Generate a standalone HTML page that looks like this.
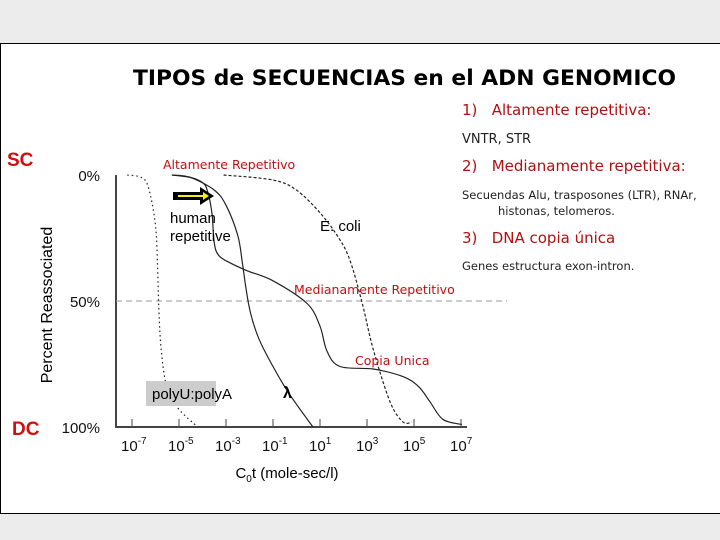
<!DOCTYPE html>
<html><head><meta charset="utf-8">
<style>
html,body{margin:0;padding:0;width:720px;height:540px;overflow:hidden;background:#ececec;font-family:"Liberation Sans",sans-serif;}
#frame{position:absolute;left:0;top:43px;width:719px;height:469px;background:#fff;border:1px solid #000;}
svg{position:absolute;left:0;top:0;}
</style></head><body>
<div id="frame"></div>
<svg width="720" height="540">
<text x="133" y="85" textLength="543" lengthAdjust="spacingAndGlyphs" font-size="21" font-weight="bold" font-family="DejaVu Sans, sans-serif">TIPOS de SECUENCIAS en el ADN GENOMICO</text>
<text x="7" y="166" fill="#d01010" font-size="19" font-weight="bold">SC</text>
<text x="12" y="435" fill="#d01010" font-size="19" font-weight="bold">DC</text>
<g font-family="DejaVu Sans, sans-serif">
<text x="462" y="115" fill="#b01010" font-size="15">1)&#160;&#160;&#160;Altamente repetitiva:</text>
<text x="462" y="143" fill="#222" font-size="13">VNTR, STR</text>
<text x="462" y="171" fill="#b01010" font-size="15">2)&#160;&#160;&#160;Medianamente repetitiva:</text>
<text x="462" y="199" fill="#222" font-size="11.5">Secuendas Alu, trasposones (LTR), RNAr,</text>
<text x="498" y="215" fill="#222" font-size="11.5">histonas, telomeros.</text>
<text x="462" y="243" fill="#b01010" font-size="15">3)&#160;&#160;&#160;DNA copia única</text>
<text x="462" y="270" fill="#222" font-size="11.5">Genes estructura exon-intron.</text>
</g>
<g id="chart"></g>
</svg>
<script>
const xTicks=[-7,-5,-3,-1,1,3,5,7];
const yTicks=[0,50,100];
const polyLog=[-7.2,-6.6,-6.3,-6.0,-5.9,-5.85,-5.75,-5.5,-5.0,-4.2];
const polyPct=[0,1,5,20,40,55,70,85,93,100];
const lambdaLog=[-5.3,-4.5,-3.5,-3.0,-2.5,-2.3,-2.15,-1.95,-1.6,-1.0,-0.3,0.7];
const lambdaPct=[0,1,6,12,24,35,45,55,65,76,87,100];
const humanLog=[-5.3,-4.5,-4.0,-3.8,-3.6,-3.5,-3.3,-2.8,-2.1,-1.0,0.45,1.0,1.3,1.85,3.26,4.53,5.2,5.68,6.23,7.04];
const humanPct=[0,1,3,6,15,27,32,35,38,42,51,60,70,76,77,80,84,90,97,99];
const ecoliLog=[-3.1,-1.0,0.0,1.0,1.8,2.28,2.8,3.26,3.98,4.53,4.9];
const ecoliPct=[0,2,6,15,25,34,51,69,90,98,98];
const NS='http://www.w3.org/2000/svg';
const g=document.getElementById('chart');
const X=l=>132+(l+7)*23.5;
const Y=p=>175+p*2.52;
function mk(t,a){const e=document.createElementNS(NS,t);for(const k in a)e.setAttribute(k,a[k]);g.appendChild(e);return e;}
let e=mk('path',{d:'M116 175 V427 H467',fill:'none',stroke:'#444','stroke-width':2});


e=mk('line',{x1:116,x2:507,y1:Y(50),y2:Y(50),stroke:'#999','stroke-dasharray':'6,4'});


xTicks.forEach(v=>{
 let t=mk('line',{x1:X(v),x2:X(v),y1:427,y2:419,stroke:'#444'});
 
 
 let tx=mk('text',{x:X(v)-11,y:451,'font-size':15,fill:'#111'});
 
 
 tx.innerHTML='10<tspan font-size="10" dy="-7">'+v+'</tspan>';
});
yTicks.forEach(v=>{
 let tx=mk('text',{x:100,y:Y(v)+6,'font-size':15,'text-anchor':'end',fill:'#111'});
 
 
 tx.textContent=v+'%';
});
function curve(L,P,name,dash,w){
 const pts=L.map((l,i)=>[X(l),Y(P[i])]);
 let d='M'+pts[0][0].toFixed(1)+' '+pts[0][1].toFixed(1);
 for(let i=0;i<pts.length-1;i++){
  const p0=pts[Math.max(0,i-1)],p1=pts[i],p2=pts[i+1],p3=pts[Math.min(pts.length-1,i+2)];
  const c1=[p1[0]+(p2[0]-p0[0])/6,p1[1]+(p2[1]-p0[1])/6];
  const c2=[p2[0]-(p3[0]-p1[0])/6,p2[1]-(p3[1]-p1[1])/6];
  d+=' C'+c1.map(v=>v.toFixed(1)).join(' ')+' '+c2.map(v=>v.toFixed(1)).join(' ')+' '+p2.map(v=>v.toFixed(1)).join(' ');
 }
 let p=mk('path',{d:d,fill:'none',stroke:'#222','stroke-width':w,'stroke-dasharray':dash,'stroke-linejoin':'round'});
 
 
}
curve(polyLog,polyPct,'polyua-curve','1.5,3',1.2);
curve(lambdaLog,lambdaPct,'lambda-curve','none',1.2);
curve(humanLog,humanPct,'human-curve','none',1.2);
curve(ecoliLog,ecoliPct,'ecoli-curve','3,2',1.2);
function txt(x,y,s,attrs,name){let t=mk('text',Object.assign({x:x,y:y},attrs));t.textContent=s;
 
 return t;}
e=mk('rect',{x:146,y:381,width:70,height:25,fill:'#cccccc'});


txt(152,399,'polyU:polyA',{'font-size':15},'polyua-label');
txt(283,398,'λ',{'font-size':16,'font-weight':'bold'},'lambda-label');
txt(320,231,'E. coli',{'font-size':15},'ecoli-label');
txt(170,223,'human',{'font-size':15},'human-label');
txt(170,241,'repetitive',{'font-size':15},'repetitive-label');
e=mk('path',{d:'M173 192 H200 V187 L214 196 L200 205 V200 H173 Z',fill:'#000'});


e=mk('path',{d:'M178 195 H203 V192 L209 196 L203 200 V197 H178 Z',fill:'#f0f020'});


txt(0,0,'Percent Reassociated',{'font-size':16,'text-anchor':'middle',transform:'translate(52,305) rotate(-90)'},'y-axis-title');
let xl=mk('text',{x:287,y:478,'font-size':15,'text-anchor':'middle'});


xl.innerHTML='C<tspan font-size="10" dy="4">0</tspan><tspan dy="-4">t (mole-sec/l)</tspan>';
const red={'font-size':12.5,fill:'#c01010','font-family':'DejaVu Sans, sans-serif'};
txt(163,169,'Altamente Repetitivo',red,'label-altamente');
txt(294,294,'Medianamente  Repetitivo',red,'label-medianamente');
txt(355,365,'Copia Unica',red,'label-copia-unica');
</script>
</body></html>
